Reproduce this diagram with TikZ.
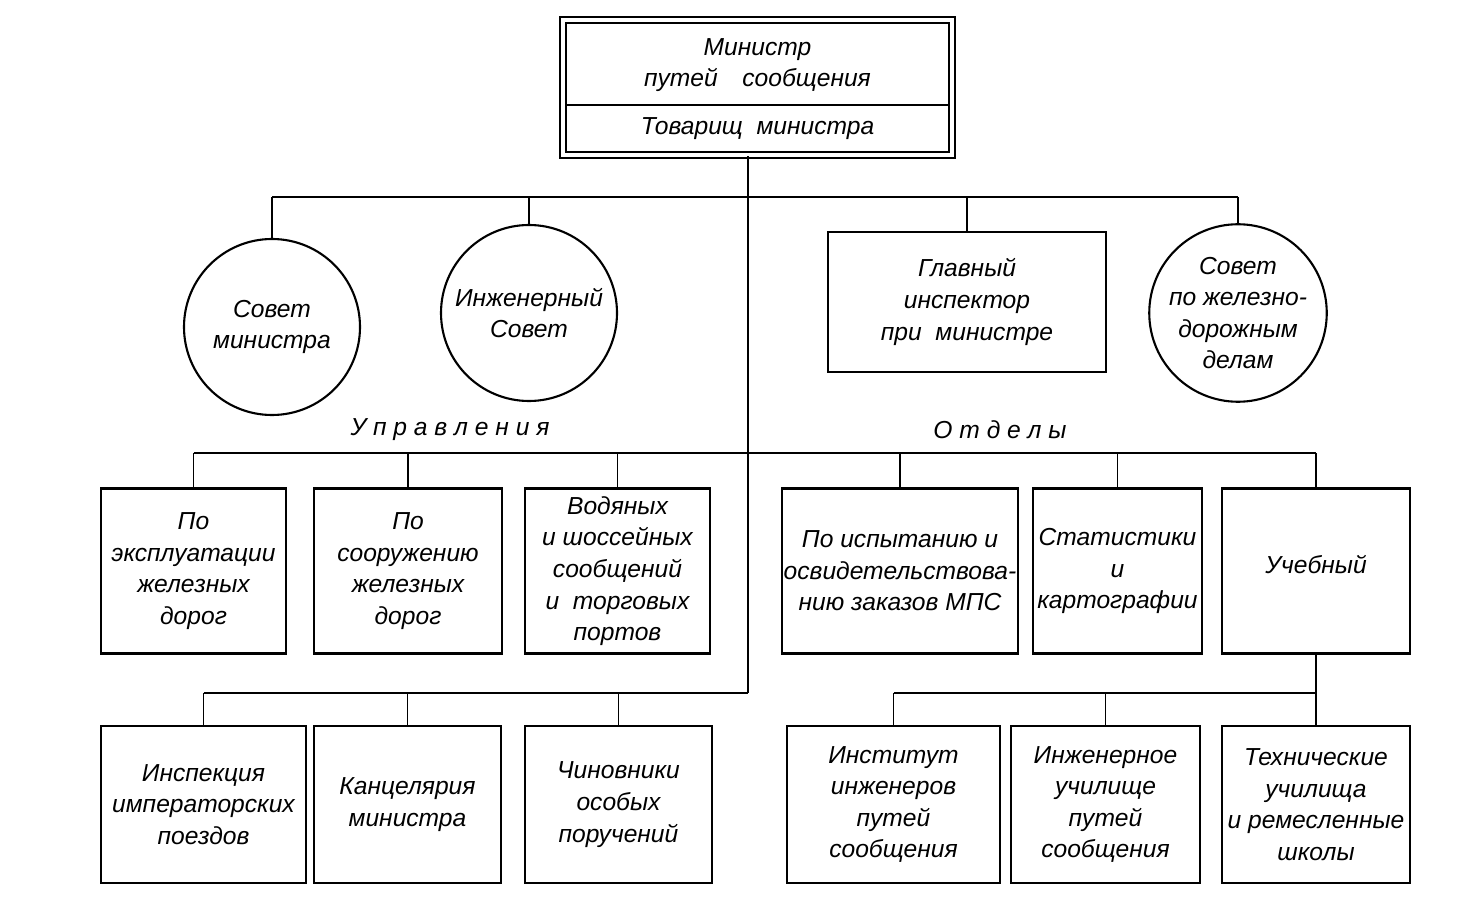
\documentclass[tikz,border=0pt]{standalone}
\usepackage{fontspec}
\setmainfont{Liberation Sans}
\tikzstyle{orgbox} = [rectangle, draw=black, line width=1.2pt, align=center, inner sep=1pt]
\tikzstyle{orgcircle} = [circle, draw=black, line width=1.2pt, align=center, minimum size=3.52cm, inner sep=0pt]
\tikzstyle{wire} = [line width=1pt]
\begin{document}
\begin{tikzpicture}[font=\fontsize{14}{18}\selectfont\itshape]
            \useasboundingbox (0,0) rectangle (29.6,-18.34);

            % Minister
            \node(top) [rectangle, draw=black, line width=1.2pt, double, double distance=2pt, minimum width=7.78cm, minimum height=2.7cm] at (15.15,-1.75) {};
            \coordinate(divl) at (11.34,-2.1);
            \coordinate(divr) at (18.96,-2.1);
            \draw[wire] (divl) -- (divr);
            \node(minister) at (15.15,-1.3) [align=center] {Министр\\путей\quad сообщения};
            \node(deputy) at (15.15,-2.58) {Товарищ\ \ министра};

            % Councils
            \node(sovet) [orgcircle] at (5.44,-6.54) {Совет\\министра};
            \node(inzh) [orgcircle] at (10.58,-6.26) {Инженерный\\Совет};
            \node(inspector) [orgbox, minimum width=5.56cm, minimum height=2.8cm] at (19.34,-6.04) {Главный\\инспектор\\при\ \ министре};
            \node(sovetzd) [orgcircle] at (24.76,-6.26) {Совет\\по железно-\\дорожным\\делам};

            \coordinate(busA) at (14.96,-3.94);
            \coordinate(trunk) at (14.96,-13.86);
            \draw[wire] (top.south -| trunk) -- (trunk);
            \draw[wire] (sovet.north |- busA) -- (sovetzd.north |- busA);
            \foreach \n in {sovet, inzh, inspector, sovetzd}
                \draw[wire] (\n.north |- busA) -- (\n.north);

            % Labels
            \node(upr) at (9.0,-8.6) {У п р а в л е н и я};
            \node(otd) at (20.0,-8.6) {О т д е л ы};

            % Second row
            \node(b1) [orgbox, minimum width=3.7cm, minimum height=3.3cm] at (3.87,-11.42) {По\\эксплуатации\\железных\\дорог};
            \node(b2) [orgbox, minimum width=3.76cm, minimum height=3.3cm] at (8.16,-11.42) {По\\сооружению\\железных\\дорог};
            \node(b3) [orgbox, minimum width=3.7cm, minimum height=3.3cm] at (12.35,-11.42) {Водяных\\и шоссейных\\сообщений\\и\ \ торговых\\портов};
            \node(b4) [orgbox, minimum width=4.52cm, minimum height=3.3cm] at (18.0,-11.42) {По испытанию и\\освидетельствова-\\нию заказов МПС};
            \node(b5) [orgbox, minimum width=3.38cm, minimum height=3.3cm] at (22.35,-11.42) {Статистики\\и\\картографии};
            \node(b6) [orgbox, minimum width=3.76cm, minimum height=3.3cm] at (26.32,-11.42) {};
            \node(b6text) at (26.32,-11.3) {Учебный};

            \coordinate(busB) at (14.96,-9.06);
            \draw[wire] (b1.north |- busB) -- (b6.north |- busB);
            \foreach \n in {b1, b2, b3, b4, b5, b6}
                \draw[wire] (\n.north |- busB) -- (\n.north);

            % Third row
            \node(c1) [orgbox, minimum width=4.1cm, minimum height=3.14cm] at (4.07,-16.09) {Инспекция\\императорских\\поездов};
            \node(c2) [orgbox, minimum width=3.74cm, minimum height=3.14cm] at (8.15,-16.09) {Канцелярия\\министра};
            \node(c3) [orgbox, minimum width=3.74cm, minimum height=3.14cm] at (12.37,-16.09) {Чиновники\\особых\\поручений};
            \node(c4) [orgbox, minimum width=4.26cm, minimum height=3.14cm] at (17.87,-16.09) {Институт\\инженеров\\путей\\сообщения};
            \node(c5) [orgbox, minimum width=3.78cm, minimum height=3.14cm] at (22.11,-16.09) {Инженерное\\училище\\путей\\сообщения};
            \node(c6) [orgbox, minimum width=3.76cm, minimum height=3.14cm] at (26.32,-16.09) {Технические\\училища\\и ремесленные\\школы};

            % Lines
            \draw[wire] (c1.north |- trunk) -- (trunk);
            \foreach \n in {c1, c2, c3}
                \draw[wire] (\n.north |- trunk) -- (\n.north);
            \draw[wire] (b6.south) -- (c6.north);
            \draw[wire] (c4.north |- trunk) -- (c6.north |- trunk);
            \foreach \n in {c4, c5}
                \draw[wire] (\n.north |- trunk) -- (\n.north);
\end{tikzpicture}
\end{document}
